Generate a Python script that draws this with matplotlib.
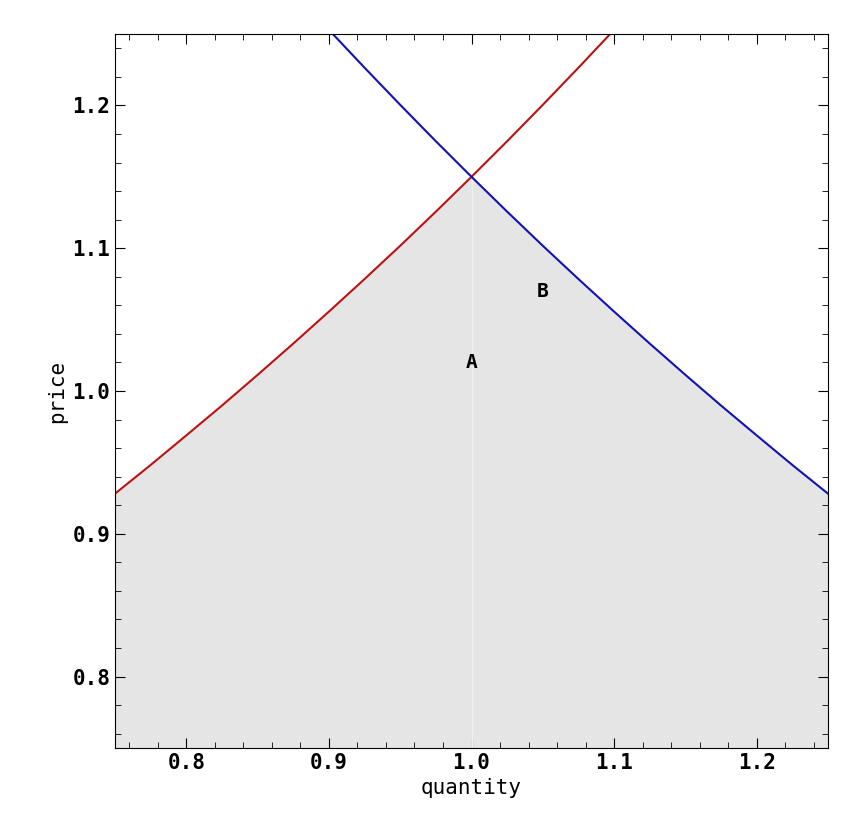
import matplotlib
matplotlib.use("Agg")
import matplotlib.pyplot as plt
import numpy as np
from matplotlib.ticker import MultipleLocator

q_supply = [0.75, 0.775, 0.8, 0.825, 0.85, 0.875, 0.9, 0.925, 0.95, 0.975, 1.0, 1.025, 1.05, 1.075, 1.1]
p_supply = [0.9281, 0.9482, 0.9689, 0.9898, 1.0113, 1.0332, 1.0556, 1.0784, 1.1017, 1.1256, 1.15, 1.1749, 1.2004, 1.2264, 1.2529]
q_demand = [0.9, 0.925, 0.95, 0.975, 1.0, 1.025, 1.05, 1.075, 1.1, 1.125, 1.15, 1.175, 1.2, 1.225, 1.25]
p_demand = [1.2529, 1.2264, 1.2004, 1.1749, 1.15, 1.1256, 1.1017, 1.0784, 1.0556, 1.0332, 1.0113, 0.9898, 0.9689, 0.9482, 0.9281]
labels = [("A", 1.0, 1.02), ("B", 1.05, 1.07)]

plt.rcParams['font.family'] = ['DejaVu Sans Mono']
plt.rcParams['font.weight'] = 'bold'
fig = plt.figure(figsize=(8.64, 8.38), dpi=100)
ax = fig.add_axes([115/864, 1-748/838, (828-115)/864, (748-34)/838])

qs = np.array(q_supply); ps = np.array(p_supply)
qd = np.array(q_demand); pd_ = np.array(p_demand)
left = qs <= 1.0
right = qd >= 1.0
ax.fill_between(qs[left], 0.75, ps[left], color='#e5e5e5', lw=0)
ax.fill_between(qd[right], 0.75, pd_[right], color='#e5e5e5', lw=0)
ax.axvline(1.0, ymax=(1.15-0.75)/0.5, color='#efefef', lw=1)
ax.plot(q_supply, p_supply, color='#bb1111', lw=1.5)
ax.plot(q_demand, p_demand, color='#1111bb', lw=1.5)
for t, x, y in labels:
    ax.text(x, y, t, ha='center', va='center', fontsize=14, fontweight='bold')

ax.set_xlim(0.75, 1.25); ax.set_ylim(0.75, 1.25)
ax.xaxis.set_major_locator(MultipleLocator(0.1))
ax.yaxis.set_major_locator(MultipleLocator(0.1))
ax.xaxis.set_minor_locator(MultipleLocator(0.02))
ax.yaxis.set_minor_locator(MultipleLocator(0.02))
ax.tick_params(which='both', direction='in', top=True, right=True, labelsize=15)
ax.tick_params(which='major', length=7)
ax.tick_params(which='minor', length=4)
ax.set_xlabel('quantity', fontsize=15)
ax.set_ylabel('price', fontsize=15)
fig.savefig('out.png', dpi=100)
